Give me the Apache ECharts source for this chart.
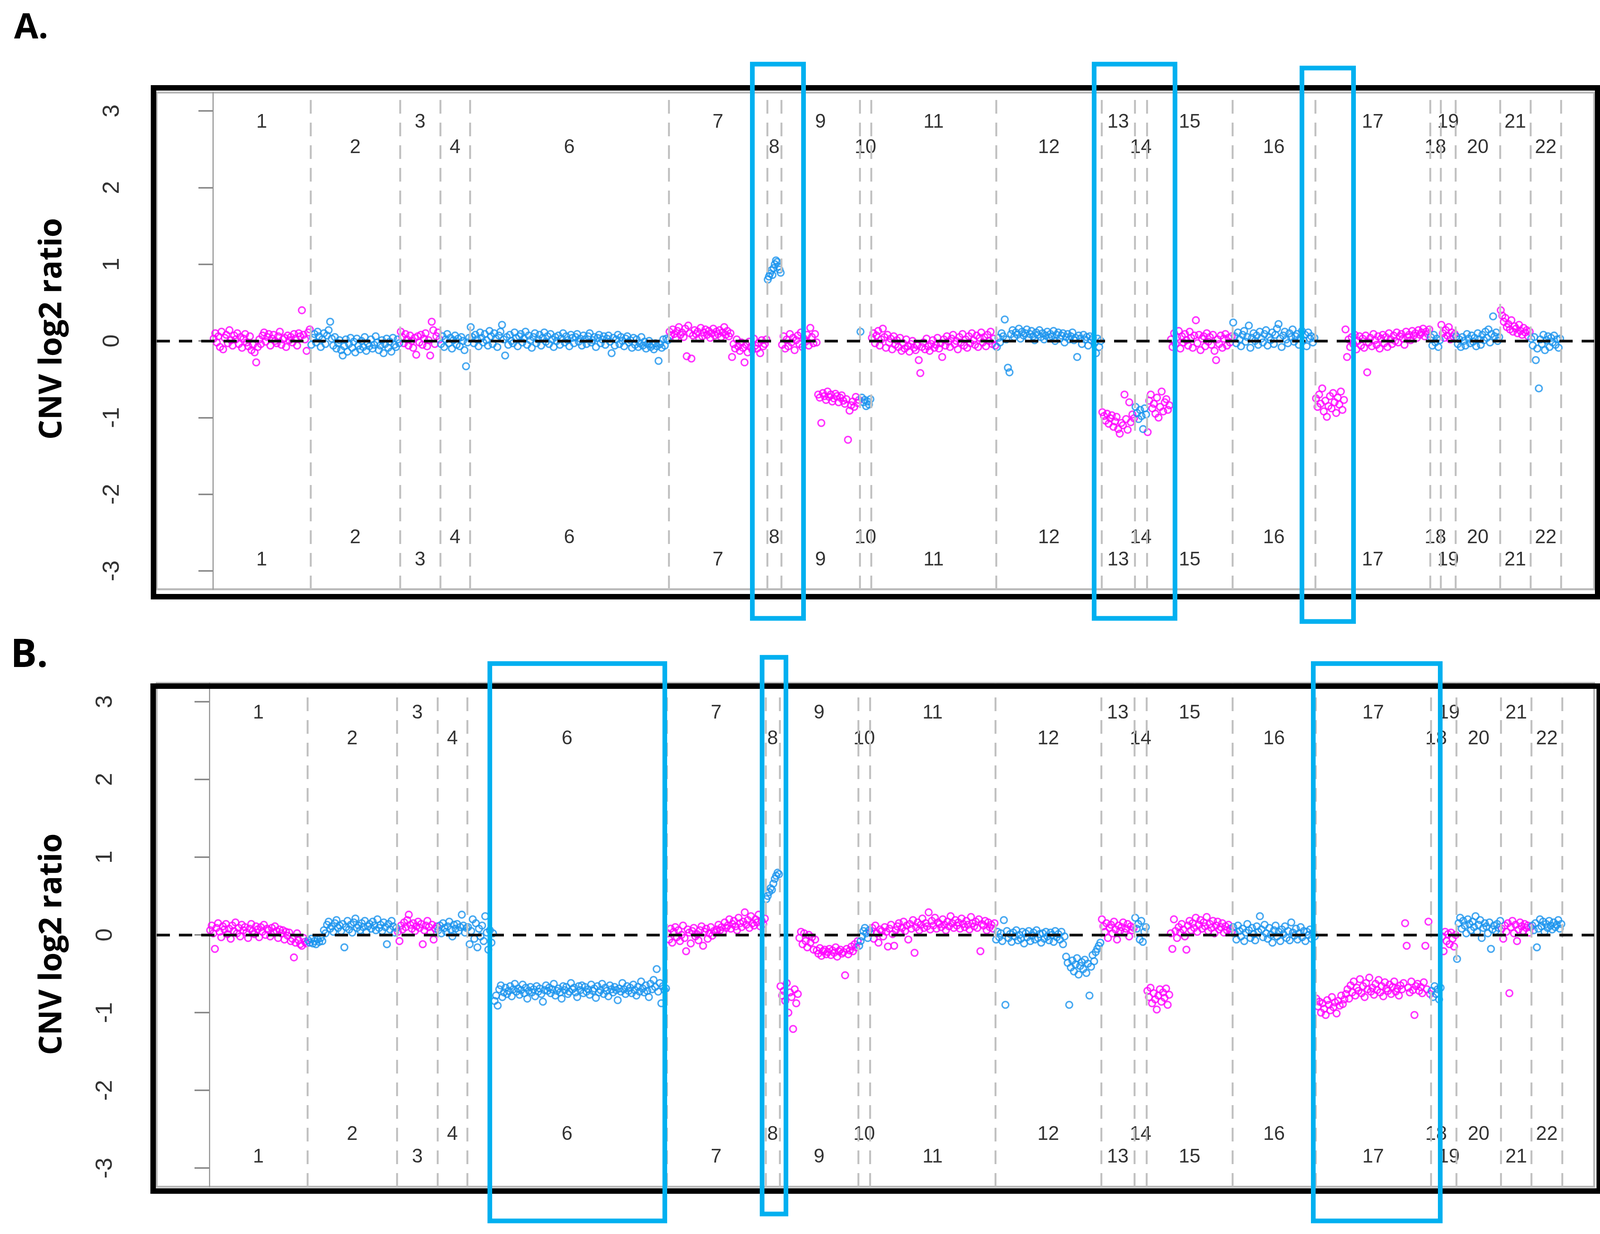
<!DOCTYPE html>
<html><head><meta charset="utf-8">
<script src="https://cdn.jsdelivr.net/npm/echarts@6/dist/echarts.min.js"></script>
<style>html,body{margin:0;padding:0;background:#fff}#c{width:4124px;height:3160px}</style>
</head><body><div id="c"></div>
<script>
// ---------- chromosome layout (genomic index units) ----------
const CHROMS = ['1','2','3','4','6','7','8','9','10','11','12','13','14','15','16','17','18','19','20','21','22'];
const CHROM_STARTS = [0,250,479,582,658,1167,1419,1455,1656,1685,2005,2275,2360,2391,2610,2822,3116,3143,3181,3295,3373];
const GENOME_END = 3451;
const Y_TICKS = [-3,-2,-1,0,1,2,3];

// ---------- Panel A: log2 ratios per chromosome (bins in order) ----------
const A1 = [0.03,0.10,-0.02,0.06,-0.08,0.12,-0.11,0.04,0.08,-0.03,0.14,0.01,-0.06,0.07,0.02,0.10,-0.04,0.05,-0.09,0.03,0.09,-0.02,-0.07,0.06,-0.12,-0.05,-0.15,-0.28,-0.08,0.02,-0.04,0.07,0.11,-0.01,0.05,0.09,-0.06,0.03,0.08,0.00,-0.03,0.06,0.12,-0.05,0.02,0.04,-0.08,0.07,0.01,0.05,-0.02,0.09,0.03,-0.06,0.10,0.06,0.40,0.08,0.02,-0.13,0.11,0.15];
const A2 = [-0.05,0.04,0.09,-0.02,0.12,0.06,-0.08,0.02,0.10,-0.04,0.07,0.14,0.25,0.03,-0.06,0.05,-0.10,-0.03,0.01,-0.12,-0.19,-0.07,0.02,-0.14,-0.04,0.04,-0.09,-0.01,-0.15,0.03,-0.06,-0.11,0.00,-0.08,0.05,-0.13,-0.03,-0.07,0.02,-0.10,-0.05,0.06,-0.02,-0.12,-0.06,0.01,-0.16,-0.04,0.03,-0.09,-0.01,-0.14,0.04,-0.05,-0.08,0.02,-0.03];
const A3 = [0.12,0.05,-0.03,0.09,0.02,-0.06,0.07,0.00,-0.09,0.04,-0.18,0.06,-0.02,0.08,-0.05,0.03,0.10,-0.07,0.01,-0.19,0.25,0.14,-0.04,0.06,0.11,0.02];
const A4 = [-0.04,0.06,-0.08,0.02,0.09,-0.03,0.04,-0.10,0.01,0.07,-0.05,0.03,-0.07,0.05,0.00,-0.12,-0.33,-0.02,0.04];
const A6 = [0.18,0.05,-0.03,0.08,0.02,-0.07,0.11,0.04,-0.02,0.09,0.01,-0.06,0.13,0.06,-0.04,0.10,0.03,-0.08,0.07,0.12,0.21,0.02,-0.19,0.05,-0.05,0.08,0.00,-0.03,0.11,0.04,-0.07,0.06,0.09,-0.02,0.03,0.12,-0.05,0.07,0.01,-0.09,0.05,0.10,-0.03,0.02,0.08,-0.06,0.04,0.11,-0.01,0.06,-0.04,0.09,0.02,-0.08,0.05,0.00,0.07,-0.05,0.03,0.10,-0.02,0.06,0.01,-0.07,0.08,0.04,-0.03,0.05,0.09,-0.01,0.03,-0.06,0.07,0.02,-0.04,0.06,0.10,-0.02,0.01,0.05,-0.08,0.04,0.08,-0.03,0.02,0.06,-0.05,0.03,0.07,-0.01,-0.16,0.04,-0.06,0.02,0.08,-0.04,0.05,0.00,-0.07,0.03,0.06,-0.02,0.01,-0.09,0.04,-0.05,0.02,-0.08,-0.03,0.05,-0.06,-0.01,-0.10,-0.04,0.00,-0.08,-0.05,-0.11,-0.03,-0.07,-0.26,-0.04,-0.09,0.02,-0.06,0.03,0.01];
const A7 = [0.12,0.07,0.15,0.09,0.04,0.13,0.18,0.08,0.11,0.05,0.16,-0.20,0.20,0.10,-0.23,0.07,0.14,0.09,0.12,0.03,0.17,0.06,0.11,0.15,0.08,0.13,0.04,0.10,0.16,0.07,0.12,0.09,0.14,0.05,0.11,0.18,0.08,0.13,0.06,0.10,-0.21,-0.04,-0.10,0.02,-0.07,-0.13,-0.02,-0.09,-0.28,-0.05,-0.15,-0.01,-0.08,-0.12,0.03,-0.06,-0.10,-0.03,-0.16,0.01,-0.07,-0.04,0.02];
const A8 = [0.80,0.84,0.88,0.92,0.86,0.95,1.00,1.05,1.03,0.97,0.93,0.89];
const A9 = [-0.05,0.06,-0.10,0.02,-0.07,0.09,-0.02,0.04,-0.12,0.01,0.07,-0.04,0.11,-0.08,0.03,-0.01,0.08,-0.06,0.17,0.05,-0.03,0.09,-0.02,-0.70,-0.74,-1.07,-0.68,-0.72,-0.77,-0.66,-0.73,-0.70,-0.79,-0.75,-0.69,-0.72,-0.80,-0.74,-0.71,-0.78,-0.82,-0.76,-1.29,-0.91,-0.84,-0.79,-0.86,-0.73,-0.81,-0.77];
const A10 = [0.12,-0.74,-0.80,-0.77,-0.85,-0.79,-0.83,-0.76];
const A11 = [0.04,0.10,-0.03,0.07,0.13,-0.06,0.02,0.16,0.05,-0.09,0.08,-0.02,0.03,-0.11,0.06,-0.05,0.01,-0.08,0.04,-0.13,-0.03,-0.10,0.02,-0.07,-0.14,-0.04,0.00,-0.09,-0.12,-0.06,-0.25,-0.42,-0.08,-0.02,-0.11,0.03,-0.07,-0.13,-0.04,0.01,-0.09,-0.05,0.04,-0.10,-0.03,-0.21,0.02,-0.06,0.06,-0.01,-0.08,0.03,0.08,-0.04,0.00,-0.11,0.05,-0.02,0.09,-0.06,0.02,-0.09,0.06,-0.03,0.10,0.01,-0.05,0.07,-0.08,0.04,0.11,-0.02,0.05,-0.07,0.08,0.00,0.12,-0.04,0.03,-0.06];
const A12 = [-0.08,0.04,-0.02,0.10,0.06,0.28,0.02,-0.35,-0.41,0.09,0.14,0.05,0.11,0.08,0.16,0.03,0.12,0.07,0.10,0.15,0.04,0.09,0.13,0.06,0.01,0.11,0.08,0.14,0.05,0.10,0.02,0.07,0.12,0.04,0.09,0.06,0.13,0.00,0.08,0.11,0.03,0.07,0.10,-0.02,0.05,0.09,0.02,0.06,0.11,0.01,0.04,-0.21,0.07,0.03,-0.04,0.08,0.02,0.05,-0.06,0.06,0.01,0.04,-0.03,-0.16,0.03,-0.08,0.00];
const A13 = [-0.93,-0.98,-1.04,-0.95,-1.08,-1.01,-0.97,-1.12,-1.05,-0.99,-1.15,-1.21,-1.07,-1.10,-0.70,-1.02,-1.16,-0.80,-1.06,-0.96,-1.01];
const A14 = [-0.86,-0.94,-1.02,-0.90,-0.98,-1.15,-0.88,-0.96];
const A15 = [-1.19,-0.78,-0.70,-0.88,-0.82,-0.95,-0.74,-1.00,-0.86,-0.66,-0.92,-0.80,-0.76,-0.90,-0.84,0.02,-0.08,0.10,-0.04,0.05,0.13,-0.10,0.06,-0.02,0.09,0.01,-0.06,0.12,0.04,-0.09,0.07,0.27,-0.03,0.08,-0.12,0.03,0.06,-0.07,0.10,-0.01,0.05,-0.05,0.08,-0.13,-0.25,0.02,-0.04,0.07,-0.09,0.03,0.09,-0.06,0.04,-0.02,0.06];
const A16 = [0.24,0.06,-0.03,0.11,0.02,-0.07,0.08,0.13,-0.01,0.05,0.20,-0.09,0.04,0.10,0.00,0.07,-0.05,0.12,0.03,-0.02,0.09,0.14,-0.06,0.05,0.01,0.11,-0.04,0.08,0.16,0.22,0.03,-0.08,0.07,0.12,0.02,-0.03,0.10,0.05,0.15,-0.01,0.06,0.09,-0.05,0.04,0.13,0.01,0.08,-0.07,0.11,0.03,0.06,-0.02,0.04];
const A17 = [-0.75,-0.86,-0.70,-0.82,-0.62,-0.92,-0.78,-0.99,-0.85,-0.72,-0.88,-0.68,-0.80,-0.94,-0.74,-0.83,-0.66,-0.90,-0.77,0.15,-0.21,0.02,-0.08,0.05,-0.04,0.08,-0.11,0.00,0.06,-0.06,0.03,-0.09,0.07,-0.41,-0.02,0.04,-0.07,0.09,0.01,-0.05,0.06,-0.10,0.03,0.08,-0.03,0.05,-0.08,0.10,0.02,-0.04,0.07,0.00,0.11,-0.02,0.06,0.09,0.03,-0.05,0.12,0.05,0.08,0.01,0.13,0.07,0.10,0.04,0.14,0.08,0.11,0.16,0.06,0.12,0.09,0.15];
const A18 = [0.05,-0.06,0.08,-0.02,0.03,-0.08,0.01];
const A19 = [0.21,0.10,0.04,0.14,0.07,0.18,0.02,0.11,0.06,0.09];
const A20 = [0.06,-0.04,0.02,-0.08,0.05,0.00,-0.06,0.09,0.03,-0.03,0.07,-0.01,0.04,-0.07,0.10,0.02,-0.05,0.08,0.01,0.12,0.04,0.15,-0.02,0.09,0.32,0.06,0.11,0.00,0.05];
const A21 = [0.40,0.33,0.25,0.30,0.18,0.22,0.15,0.27,0.12,0.19,0.16,0.10,0.21,0.13,0.08,0.17,0.11,0.14,0.06,0.12];
const A22 = [0.03,-0.06,0.05,-0.25,-0.10,-0.62,0.02,-0.04,0.08,-0.12,0.01,0.06,-0.08,0.04,-0.02,0.07,-0.05,0.02,-0.09,0.03];
const PANEL_A = [A1,A2,A3,A4,A6,A7,A8,A9,A10,A11,A12,A13,A14,A15,A16,A17,A18,A19,A20,A21,A22];

// ---------- Panel B: log2 ratios per chromosome (bins in order) ----------
const B1 = [0.06,0.12,0.02,-0.18,0.09,0.15,0.04,-0.03,0.11,0.07,0.14,0.01,0.08,-0.05,0.12,0.05,0.16,0.02,0.09,-0.02,0.13,0.06,0.10,0.03,-0.04,0.08,0.14,0.05,0.01,0.11,0.07,-0.03,0.10,0.04,0.13,0.00,0.08,0.06,-0.02,0.09,0.03,0.11,0.05,-0.04,0.07,0.02,0.06,-0.06,0.04,-0.01,0.03,-0.08,-0.05,-0.29,-0.10,0.02,-0.07,-0.12,-0.14,-0.04,-0.09,-0.11];
const B2 = [-0.07,-0.10,-0.05,-0.11,-0.08,-0.12,-0.06,-0.09,-0.04,-0.08,0.06,0.02,0.13,0.17,0.08,0.11,0.04,0.15,0.19,0.09,0.12,0.05,0.14,-0.16,0.10,0.18,0.07,0.13,0.03,0.16,0.21,0.09,0.12,0.06,0.15,0.10,0.18,0.04,0.11,0.14,0.08,0.17,0.12,0.06,0.20,0.09,0.13,0.05,0.16,0.10,-0.12,0.14,0.07,0.18,0.11,0.03,0.09];
const B3 = [0.04,-0.08,0.12,0.07,0.16,0.10,0.19,0.26,0.13,0.08,0.15,0.05,0.11,0.17,0.09,0.14,-0.12,0.06,0.12,0.18,0.10,0.03,0.13,-0.06,0.08,0.11];
const B4 = [0.06,0.12,0.02,0.15,0.09,0.04,0.11,0.17,0.07,-0.02,0.13,0.08,0.14,0.05,0.10,0.26,0.12,0.03,0.09];
const B6 = [0.10,-0.12,0.05,0.20,-0.05,0.15,-0.16,0.08,-0.02,0.12,-0.08,0.24,0.03,-0.19,0.06,-0.10,0.02,-0.85,-0.78,-0.91,-0.70,-0.65,-0.80,-0.74,-0.68,-0.76,-0.72,-0.66,-0.79,-0.70,-0.63,-0.73,-0.69,-0.77,-0.71,-0.64,-0.75,-0.68,-0.82,-0.72,-0.67,-0.74,-0.70,-0.79,-0.66,-0.73,-0.69,-0.76,-0.86,-0.71,-0.65,-0.72,-0.68,-0.75,-0.70,-0.63,-0.78,-0.72,-0.69,-0.74,-0.82,-0.66,-0.71,-0.67,-0.76,-0.73,-0.62,-0.70,-0.68,-0.74,-0.80,-0.66,-0.71,-0.65,-0.75,-0.67,-0.73,-0.70,-0.77,-0.64,-0.72,-0.69,-0.81,-0.66,-0.74,-0.71,-0.63,-0.76,-0.68,-0.72,-0.79,-0.65,-0.70,-0.74,-0.67,-0.71,-0.84,-0.69,-0.73,-0.62,-0.70,-0.76,-0.66,-0.72,-0.68,-0.75,-0.64,-0.71,-0.78,-0.67,-0.73,-0.60,-0.69,-0.74,-0.65,-0.72,-0.80,-0.63,-0.70,-0.58,-0.67,-0.44,-0.73,-0.62,-0.88,-0.66,-0.71,-0.69];
const B7 = [0.02,-0.06,0.08,-0.10,0.04,0.10,-0.03,0.06,-0.08,0.00,0.12,-0.04,-0.21,0.07,0.03,-0.11,0.05,0.09,-0.02,0.01,-0.07,0.06,0.11,-0.14,0.04,0.08,-0.05,0.02,0.10,-0.01,0.05,0.03,0.07,0.13,0.06,0.10,0.04,0.16,0.09,0.12,0.20,0.08,0.14,0.18,0.11,0.06,0.22,0.15,0.10,0.17,0.29,0.13,0.19,0.09,0.24,0.15,0.12,0.20,0.16,0.26,0.11,0.18,0.14,0.21];
const B8 = [0.46,0.50,0.55,0.60,0.58,0.66,0.72,0.76,0.80,0.78];
const B9 = [-0.66,-0.78,-0.72,-0.85,-0.62,-1.00,-0.74,-0.80,-1.21,-0.70,-0.88,-0.76,-0.04,0.04,-0.12,0.02,-0.08,-0.16,0.00,-0.10,-0.03,-0.19,-0.06,-0.20,-0.24,-0.17,-0.27,-0.21,-0.19,-0.25,-0.22,-0.18,-0.26,-0.20,-0.23,-0.16,-0.28,-0.21,-0.19,-0.24,-0.22,-0.52,-0.18,-0.25,-0.20,-0.15,-0.21,-0.12,-0.16,-0.08];
const B10 = [-0.14,-0.08,-0.02,0.05,0.09,0.02,-0.04,0.06];
const B11 = [0.03,0.09,-0.05,0.12,0.02,-0.10,0.07,0.05,-0.02,0.10,0.04,-0.15,0.08,0.13,0.01,-0.14,0.06,0.11,0.15,0.03,0.09,0.17,0.05,0.12,-0.06,0.14,0.08,0.19,-0.23,0.10,0.16,0.06,0.13,0.21,0.09,0.15,0.11,0.29,0.07,0.18,0.12,0.22,0.08,0.16,0.14,0.10,0.20,0.13,0.06,0.17,0.11,0.24,0.15,0.09,0.19,0.12,0.16,0.08,0.21,0.14,0.10,0.18,0.13,0.07,0.23,0.15,0.11,0.17,0.09,0.20,-0.21,0.14,0.12,0.18,0.06,0.16,0.10,0.13,0.08,0.15];
const B12 = [-0.06,0.04,-0.03,0.02,-0.08,0.19,-0.90,0.05,-0.04,0.01,-0.09,0.03,-0.02,0.06,-0.07,0.00,-0.05,0.04,-0.11,0.02,-0.03,0.05,-0.08,-0.01,0.03,-0.06,0.06,-0.04,0.01,-0.10,0.02,-0.05,0.04,-0.02,-0.07,0.03,0.00,-0.09,0.05,-0.03,0.01,-0.06,0.04,-0.12,-0.02,-0.28,-0.36,-0.90,-0.42,-0.33,-0.47,-0.38,-0.30,-0.51,-0.40,-0.35,-0.44,-0.32,-0.49,-0.37,-0.78,-0.41,-0.26,-0.34,-0.22,-0.18,-0.14,-0.10];
const B13 = [0.20,0.11,0.04,0.15,-0.04,0.09,0.13,0.02,0.17,0.07,-0.06,0.12,0.05,0.10,0.16,0.03,0.08,0.14,-0.02,0.11,0.06,0.09];
const B14 = [0.22,0.08,0.14,-0.06,0.18,-0.09,0.04,0.10];
const B15 = [-0.72,-0.80,-0.68,-0.88,-0.75,-0.83,-0.96,-0.78,-0.70,-0.86,-0.74,-0.81,-0.69,-0.90,-0.77,0.02,-0.18,0.20,0.05,-0.04,0.10,0.03,0.14,0.07,-0.02,-0.19,0.12,0.18,0.06,0.15,0.09,0.22,0.04,0.13,0.19,0.08,0.16,0.11,0.23,0.05,0.14,0.09,0.18,0.02,0.12,0.17,0.07,0.10,0.15,0.03,0.11,0.06,0.13,0.08,0.04];
const B16 = [0.10,0.02,-0.06,0.12,0.05,-0.02,0.08,-0.08,0.03,0.14,0.06,-0.04,0.09,0.01,-0.07,0.11,0.04,0.24,0.07,-0.03,0.13,0.02,-0.05,0.09,0.00,-0.10,0.06,0.12,-0.02,0.04,-0.08,0.07,0.01,0.11,-0.04,0.05,-0.07,0.16,0.03,-0.01,0.08,-0.06,0.02,0.10,-0.03,0.05,-0.08,0.04,0.00,0.07,-0.05,0.03,-0.02];
const B17 = [-0.82,-0.92,-0.86,-1.00,-0.88,-0.95,-1.03,-0.84,-0.90,-0.97,-0.80,-0.93,-0.87,-1.01,-0.85,-0.91,-0.78,-0.89,-0.83,-0.76,-0.70,-0.82,-0.65,-0.74,-0.60,-0.78,-0.68,-0.72,-0.57,-0.75,-0.66,-0.80,-0.62,-0.70,-0.55,-0.73,-0.68,-0.77,-0.63,-0.71,-0.58,-0.74,-0.66,-0.79,-0.61,-0.69,-0.72,-0.64,-0.76,-0.67,-0.60,-0.73,-0.69,-0.78,-0.65,-0.70,-0.62,0.15,-0.14,-0.68,-0.74,-0.60,-0.71,-1.03,-0.66,-0.63,-0.72,-0.67,-0.75,-0.61,-0.14,-0.70,0.17,-0.76];
const B18 = [-0.72,-0.80,-0.66,-0.76,-0.70,-0.83,-0.68];
const B19 = [-0.02,-0.21,0.04,-0.08,0.01,-0.12,0.03,-0.05,-0.15,0.00];
const B20 = [-0.31,0.15,0.22,0.08,0.18,0.12,0.02,0.20,0.14,0.06,0.17,0.10,0.24,0.04,0.13,0.19,-0.04,0.09,0.15,0.11,0.02,0.16,-0.18,0.07,0.12,0.05,0.14,0.09,0.18];
const B21 = [0.08,-0.05,0.12,0.04,0.15,-0.75,0.10,0.18,0.02,0.13,-0.08,0.07,0.16,0.11,0.05,0.14,0.09,0.12,0.03,0.10];
const B22 = [0.12,0.06,0.15,-0.16,0.08,0.20,0.11,0.17,0.04,0.14,0.09,0.18,0.12,0.07,0.16,0.10,0.13,0.19,0.08,0.14];
const PANEL_B = [B1,B2,B3,B4,B6,B7,B8,B9,B10,B11,B12,B13,B14,B15,B16,B17,B18,B19,B20,B21,B22];

// ---------- highlight boxes: [xStart, xEnd, yTop, yBottom] in data units ----------
const A_BOXES = [[1381,1512,3.61,-3.62],[2256,2463,3.61,-3.62],[2788,2920,3.56,-3.66]];
const B_BOXES = [[715.5,1161.9,3.49,-3.68],[1410.1,1470.9,3.57,-3.59],[2816.2,3140.1,3.49,-3.68]];
const PANEL_LETTERS = ['A.','B.'];
const Y_TITLE = 'CNV log2 ratio';

// ---------- build ----------
const MAGENTA = '#ff00ff', BLUE = '#1a93ee';
function chromEnd(i){ return i + 1 < CHROM_STARTS.length ? CHROM_STARTS[i+1] : GENOME_END; }
function pointsFor(panel, parity){
  const out = [];
  panel.forEach((vals, i) => {
    if (parseInt(CHROMS[i], 10) % 2 !== parity) return;
    const s = CHROM_STARTS[i], w = chromEnd(i) - s;
    vals.forEach((v, j) => out.push([s + (j + 0.5) * w / vals.length, v]));
  });
  return out;
}
function labelData(){
  const out = [];
  CHROMS.forEach((c, i) => {
    const cx = (CHROM_STARTS[i] + chromEnd(i)) / 2;
    const odd = parseInt(c, 10) % 2 === 1;
    out.push({name: c, value: [cx, odd ? 2.85 : 2.52]});
    out.push({name: c, value: [cx, odd ? -2.86 : -2.57]});
  });
  return out;
}
const boundaries = CHROM_STARTS.slice(1).concat([GENOME_END]);

function panelSeries(panel, g){
  const pt = (color) => ({
    type: 'scatter', xAxisIndex: g, yAxisIndex: g, z: 2, silent: true,
    symbol: 'circle', symbolSize: 17, large: false,
    itemStyle: {color: 'rgba(0,0,0,0)', borderColor: color, borderWidth: 3.8}
  });
  return [
    {type: 'scatter', xAxisIndex: g, yAxisIndex: g, data: [], z: 1, silent: true,
     markLine: {silent: true, symbol: ['none','none'], label: {show: false}, animation: false,
       lineStyle: {type: [35,23], color: '#c2c2c2', width: 5},
       data: boundaries.map(x => ({xAxis: x}))}},
    Object.assign(pt(MAGENTA), {data: pointsFor(panel, 1)}),
    Object.assign(pt(BLUE), {data: pointsFor(panel, 0)}),
    {type: 'scatter', xAxisIndex: g, yAxisIndex: g, data: [], z: 3, silent: true,
     markLine: {silent: true, symbol: ['none','none'], label: {show: false}, animation: false,
       lineStyle: {type: [34,23], color: '#111', width: 7},
       data: [{yAxis: 0}]}},
    {type: 'scatter', xAxisIndex: g, yAxisIndex: g, z: 4, silent: true, symbolSize: 0,
     data: labelData(),
     label: {show: true, position: 'inside', formatter: p => p.name,
       fontFamily: 'Liberation Sans', fontSize: 50, color: '#000'}}
  ];
}
function yAxisFor(g, offset, tickLen, margin){
  return {
    gridIndex: g, type: 'value', min: -3.24, max: 3.24, offset: offset,
    axisLine: {show: true, lineStyle: {color: '#9a9a9a', width: 3}},
    axisTick: {show: true, length: tickLen, customValues: Y_TICKS, lineStyle: {color: '#8a8a8a', width: 4}},
    axisLabel: {customValues: Y_TICKS, rotate: 90, margin: margin, fontSize: 60,
      fontFamily: 'Liberation Sans', color: '#333'},
    splitLine: {show: false}
  };
}

const chart = echarts.init(document.getElementById('c'), null, {renderer: 'canvas'});
chart.setOption({
  animation: false,
  backgroundColor: '#fff',
  grid: [
    {left: 401, top: 237, width: 3680, height: 1272, show: true, borderColor: '#b8b8b8', borderWidth: 5, backgroundColor: 'transparent'},
    {left: 401, top: 1749, width: 3680, height: 1290, show: true, borderColor: '#b8b8b8', borderWidth: 5, backgroundColor: 'transparent'}
  ],
  xAxis: [
    {gridIndex: 0, type: 'value', min: -144, max: 3536, show: false},
    {gridIndex: 1, type: 'value', min: -134.5, max: 3532.7, show: false}
  ],
  yAxis: [yAxisFor(0, 8, 37, 76), yAxisFor(1, 19, 38, 83)],
  series: panelSeries(PANEL_A, 0).concat(panelSeries(PANEL_B, 1))
});

// ---------- annotation graphics ----------
function boxRects(boxes, g){
  return boxes.map(b => {
    const p1 = chart.convertToPixel({gridIndex: g}, [b[0], b[2]]);
    const p2 = chart.convertToPixel({gridIndex: g}, [b[1], b[3]]);
    return {type: 'rect', z: 100, silent: true,
      shape: {x: p1[0], y: p1[1], width: p2[0] - p1[0], height: p2[1] - p1[1]},
      style: {fill: 'none', stroke: '#00b0f0', lineWidth: 12}};
  });
}
const frame = (x, y, w, h) => ({type: 'rect', z: 90, silent: true,
  shape: {x: x, y: y, width: w, height: h}, style: {fill: 'none', stroke: '#000', lineWidth: 14}});
const txt = (t, x, y, size, rot, align) => ({type: 'text', z: 100, silent: true, x: x, y: y, rotation: rot,
  style: {text: t, font: 'bold ' + size + 'px "Open Sans"', fill: '#000',
    align: align, textAlign: align, verticalAlign: 'middle', textVerticalAlign: 'middle'}});

chart.setOption({
  graphic: [
    frame(393, 225, 3697, 1303),
    frame(392, 1757, 3702, 1293),
    txt(PANEL_LETTERS[0], 36, 72, 90, 0, 'left'),
    txt(PANEL_LETTERS[1], 27, 1680, 100, 0, 'left'),
    txt(Y_TITLE, 134, 842, 80, Math.PI / 2, 'center'),
    txt(Y_TITLE, 134, 2418, 80, Math.PI / 2, 'center')
  ].concat(boxRects(A_BOXES, 0), boxRects(B_BOXES, 1))
});
</script>
</body></html>
